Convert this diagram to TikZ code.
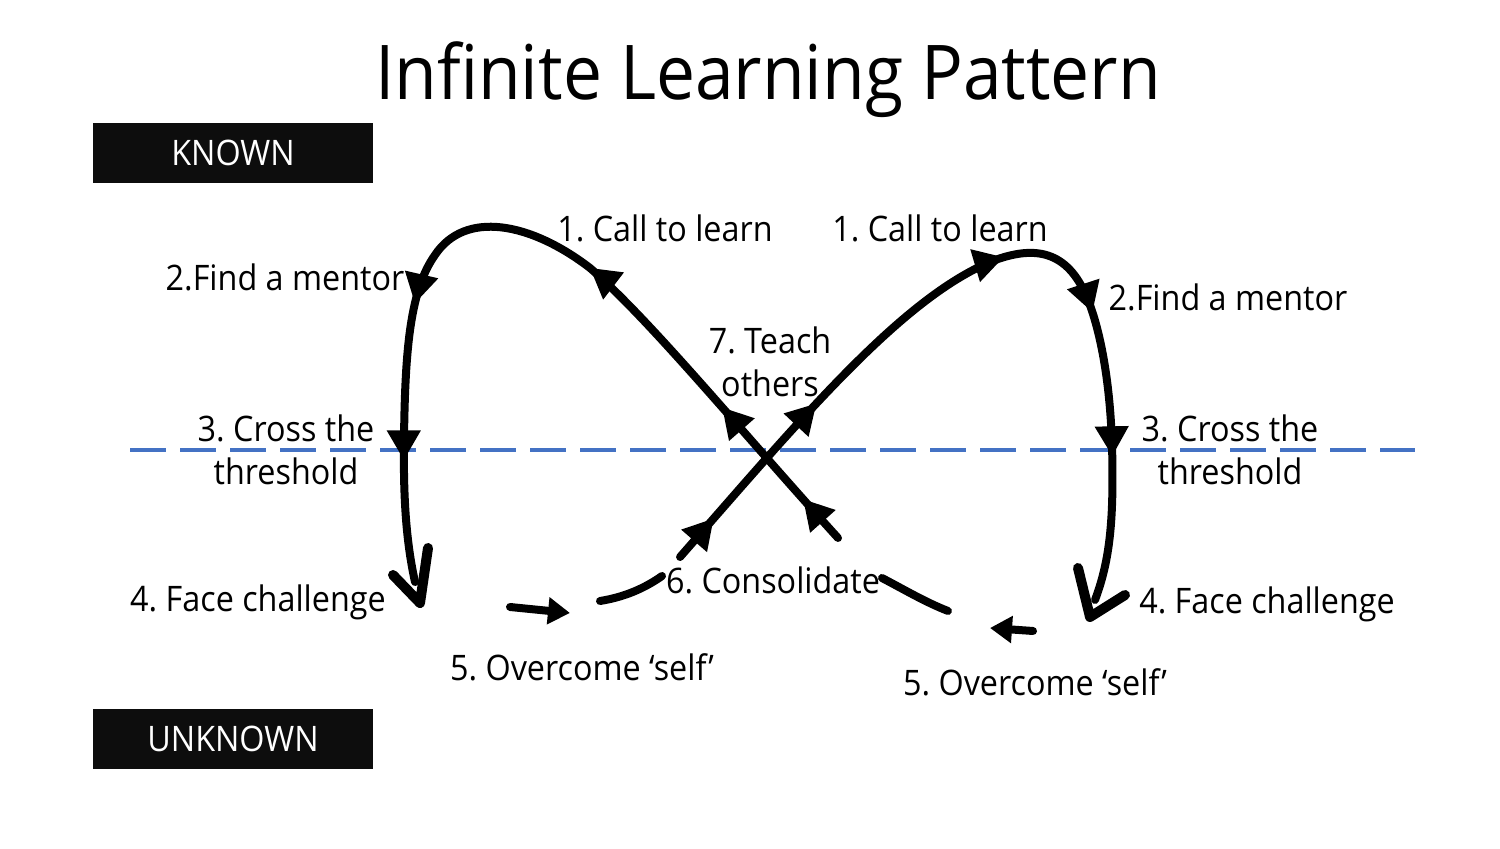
\documentclass[tikz,border=0pt]{standalone}
\usepackage{fontspec}
\setmainfont{Open Sans}[FakeStretch=0.92]
\usetikzlibrary{arrows.meta, decorations.markings}
\definecolor{dashblue}{RGB}{68,114,196}
\definecolor{boxblack}{RGB}{13,13,13}
\frenchspacing

\begin{document}
\begin{tikzpicture}[x=0.1mm, y=-0.1mm,
    every node/.style={inner sep=1pt, font=\fontsize{10}{12.2}\selectfont},
    labelbox/.style={fill=boxblack, text=white, minimum width=28mm, minimum height=6mm},
    loopline/.style={line width=0.8mm, line cap=round},
    vhead/.style={line width=1mm, line cap=round, line join=round},
    tipat/.style={postaction={decorate, decoration={markings,
        mark=at position #1 with {\arrow{Triangle[length=3mm, width=3.2mm]}}}}},
    dashline/.style={dashblue, line width=0.4mm, dash pattern=on 3.6mm off 1.4mm}]
    \useasboundingbox (0,0) rectangle (1500,849);

    % Titles and boxes
    \node (title) at (768,80) [font=\fontsize{21.5}{25}\selectfont] {Infinite Learning Pattern};
    \node (known) at (233,153) [labelbox] {KNOWN};
    \node (unknown) at (233,739) [labelbox] {UNKNOWN};

    % Step labels
    \node (callL) at (665,228) {1. Call to learn};
    \node (callR) at (940,228) {1. Call to learn};
    \node (mentorL) at (285,277) {2.Find a mentor};
    \node (mentorR) at (1228,297) {2.Find a mentor};
    \node (crossL) at (286,450) [align=center] {3. Cross the\\threshold};
    \node (crossR) at (1230,450) [align=center] {3. Cross the\\threshold};
    \node (teach) at (770,362) [align=center] {7. Teach\\others};
    \node (faceL) at (258,602) {4. Face challenge};
    \node (faceR) at (1267,604) {4. Face challenge};
    \node (selfL) at (582,667) {5. Overcome ‘self’};
    \node (selfR) at (1035,682) {5. Overcome ‘self’};
    \node (consol) at (773,580) {6. Consolidate};

    % Threshold line
    \coordinate (dashA) at (130,450);
    \coordinate (dashB) at (1415,450);
    \draw[dashline] (dashA) -- (dashB);

    % Left loop
    \coordinate (lstart) at (838,538);
    \coordinate (lturn) at (590,268);
    \coordinate (ltop) at (435,255);
    \coordinate (lside) at (404,440);
    \coordinate (lend) at (415,582);
    \draw[loopline, tipat=0.06, tipat=0.2, tipat=0.42, tipat=0.68, tipat=0.86]
        (lstart) .. controls (740,430) and (650,320) .. (lturn)
        .. controls (530,222) and (465,210) .. (ltop)
        .. controls (410,290) and (405,350) .. (lside)
        .. controls (403,510) and (408,550) .. (lend);

    % Right loop
    \coordinate (rstart) at (680,557);
    \coordinate (rturn) at (990,262);
    \coordinate (rtop) at (1088,300);
    \coordinate (rside) at (1112,445);
    \coordinate (rend) at (1095,600);
    \draw[loopline, tipat=0.06, tipat=0.24, tipat=0.52, tipat=0.66, tipat=0.83]
        (rstart) .. controls (800,420) and (900,300) .. (rturn)
        .. controls (1040,242) and (1070,255) .. (rtop)
        .. controls (1100,330) and (1110,380) .. (rside)
        .. controls (1114,520) and (1110,560) .. (rend);

    % Open heads at the bottom
    \coordinate (lvA) at (393,575);
    \coordinate (lvB) at (420,603);
    \coordinate (lvC) at (428,548);
    \draw[vhead] (lvA) -- (lvB) -- (lvC);
    \coordinate (rvA) at (1078,568);
    \coordinate (rvB) at (1090,617);
    \coordinate (rvC) at (1125,595);
    \draw[vhead] (rvA) -- (rvB) -- (rvC);

    % Bottom strokes
    \coordinate (lbotA) at (510,607);
    \coordinate (lbotB) at (570,613);
    \draw[loopline, -{Triangle[length=2.2mm, width=2.6mm]}] (lbotA) -- (lbotB);
    \coordinate (lcurA) at (600,601);
    \coordinate (lcurB) at (662,576);
    \draw[loopline] (lcurA) .. controls (625,597) and (645,588) .. (lcurB);
    \coordinate (rcurA) at (882,578);
    \coordinate (rcurB) at (948,611);
    \draw[loopline] (rcurA) .. controls (905,590) and (925,602) .. (rcurB);
    \coordinate (rbotA) at (1033,631);
    \coordinate (rbotB) at (990,628);
    \draw[loopline, -{Triangle[length=2.2mm, width=2.6mm]}] (rbotA) -- (rbotB);

\end{tikzpicture}
\end{document}
